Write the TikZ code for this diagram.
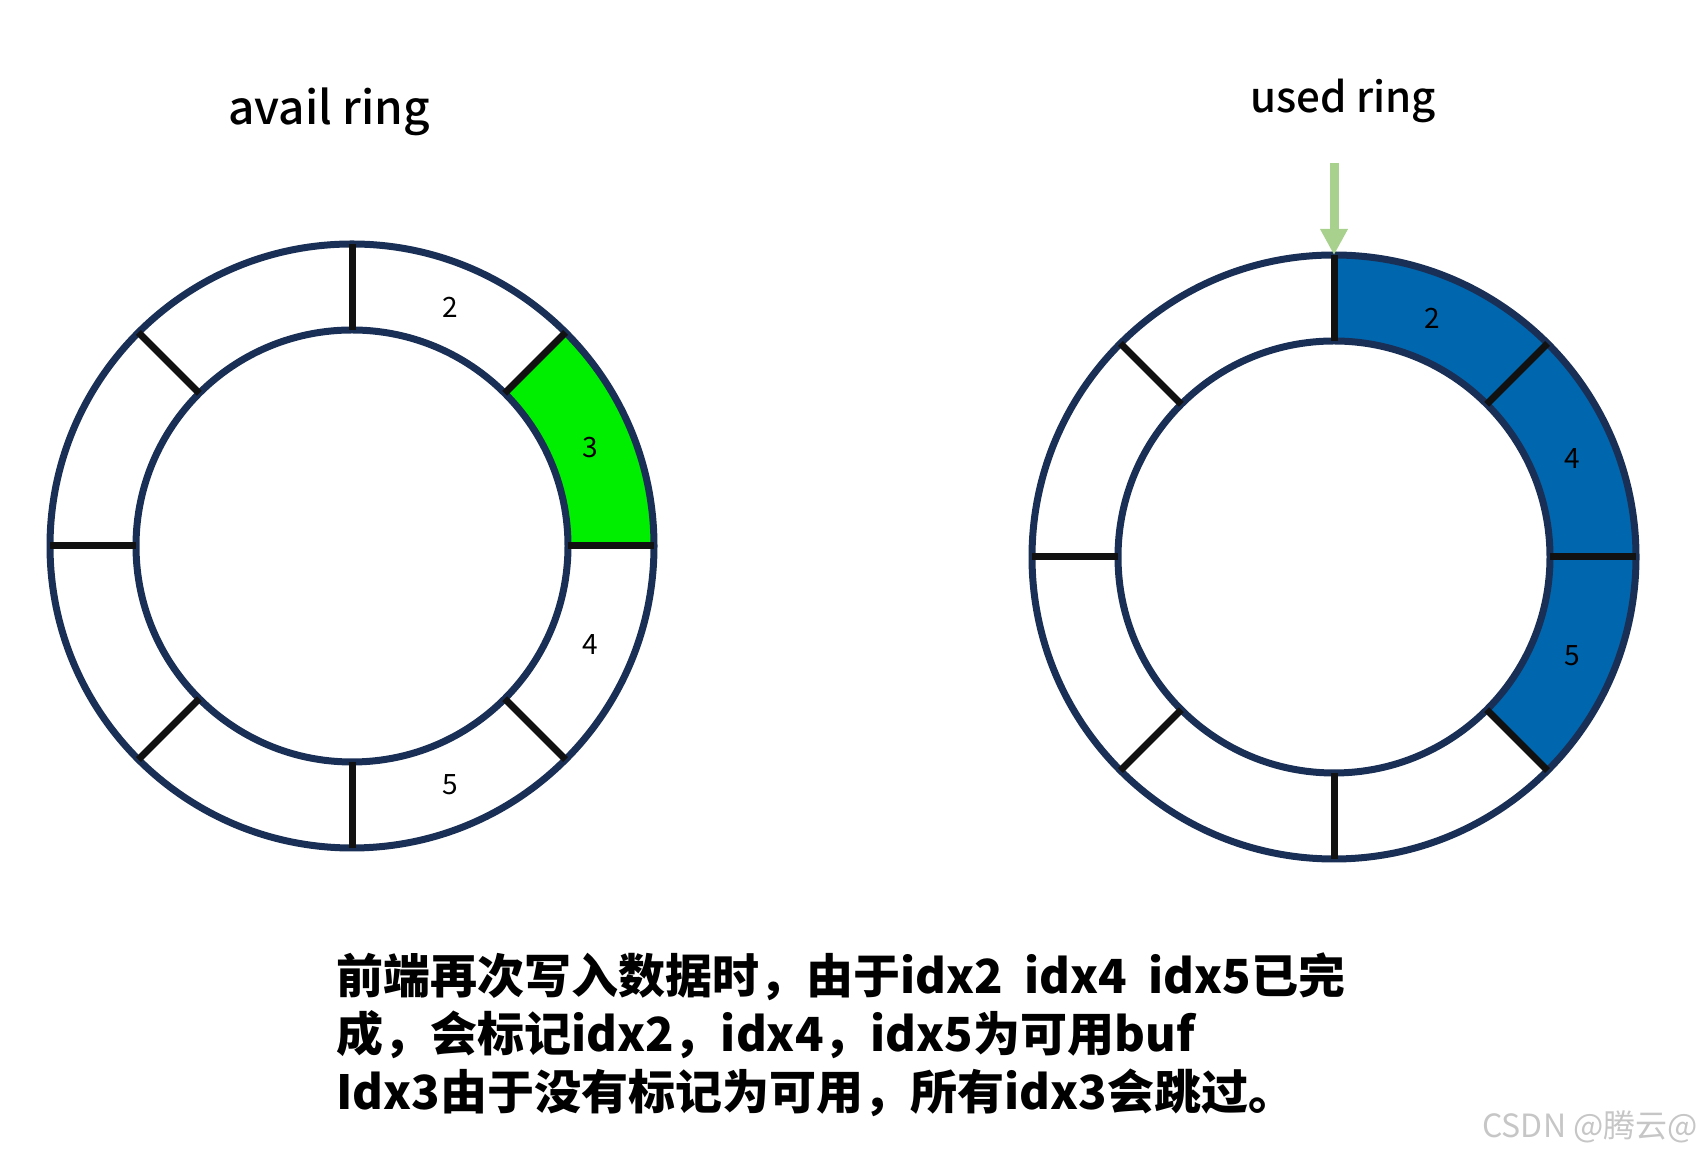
\documentclass[tikz,border=0pt]{standalone}
\usepackage{fontspec}
\usepackage{xcolor}
\usepackage{tikz}
\usetikzlibrary{arrows.meta,positioning,calc}
\newfontfamily\cjk{Noto Sans CJK SC}
\newfontfamily\cjktitle{Noto Sans CJK SC Medium}

\definecolor{ringnavy}{RGB}{26,47,86}
\definecolor{spokeblack}{RGB}{17,17,17}
\definecolor{availgreen}{RGB}{0,238,0}
\definecolor{usedblue}{RGB}{0,102,173}
\definecolor{arrowgreen}{RGB}{169,209,142}

\begin{document}
\begin{tikzpicture}[x=1pt, y=1pt,
    ringline/.style={draw=ringnavy, line width=7pt},
    spoke/.style={draw=spokeblack, line width=7pt},
    slotnum/.style={font=\cjk\fontsize{28}{28}\selectfont, inner sep=0pt},
    ringtitle/.style={font=\cjktitle\fontsize{46}{46}\selectfont, anchor=base, inner sep=0pt},
    noteline/.style={font=\cjk\bfseries\fontsize{47}{58}\selectfont, anchor=base west, inner sep=0pt}]

    \useasboundingbox (0,0) rectangle (1700,1156);

    \coordinate (lc) at (352,610);
    \coordinate (uc) at (1334,599);

    % titles
    \node[ringtitle] (availtitle) at (329,1031) {avail ring};
    \node[ringtitle, font=\cjktitle\fontsize{42}{42}\selectfont] (usedtitle) at (1343,1043) {used ring};

    % filled slots
    \fill[availgreen] ($(lc)+(0:302)$) arc[start angle=0, end angle=45, radius=302]
        -- ($(lc)+(45:216)$) arc[start angle=45, end angle=0, radius=216] -- cycle;
    \fill[usedblue] ($(uc)+(-45:302)$) arc[start angle=-45, end angle=90, radius=302]
        -- ($(uc)+(90:216)$) arc[start angle=90, end angle=-45, radius=216] -- cycle;

    % rings
    \draw[ringline] (lc) circle[radius=302];
    \draw[ringline] (lc) circle[radius=216];
    \draw[ringline] (uc) circle[radius=302];
    \draw[ringline] (uc) circle[radius=216];

    \foreach \a in {0,45,...,315} {
        \draw[spoke] ($(lc)+(\a:216)$) -- ($(lc)+(\a:302)$);
        \draw[spoke] ($(uc)+(\a:216)$) -- ($(uc)+(\a:302)$);
    }

    % slot numbers
    \node[slotnum] (a2) at ($(lc)+(67.5:258)$) {2};
    \node[slotnum] (a3) at ($(lc)+(22.5:258)$) {3};
    \node[slotnum] (a4) at ($(lc)+(-22.5:258)$) {4};
    \node[slotnum] (a5) at ($(lc)+(-67.5:258)$) {5};
    \node[slotnum] (u2) at ($(uc)+(67.5:258)$) {2};
    \node[slotnum] (u4) at ($(uc)+(22.5:258)$) {4};
    \node[slotnum] (u5) at ($(uc)+(-22.5:258)$) {5};

    % used pointer
    \coordinate (utop) at ($(uc)+(90:302)$);
    \coordinate (uptr) at (1334,993);
    \draw[draw=arrowgreen, line width=9pt, -{Triangle[width=26pt, length=26pt]}] (uptr) -- (utop);

    % note
    \node[noteline] (note1) at (336,162) {前端再次写入数据时，由于idx2\ \ idx4\ \ idx5已完};
    \node[noteline] (note2) at (336,104) {成，会标记idx2，idx4，idx5为可用buf};
    \node[noteline] (note3) at (336,46) {Idx3由于没有标记为可用，所有idx3会跳过。};

    \node[font=\cjk\fontsize{32}{32}\selectfont, text=gray!45, anchor=base east, inner sep=0pt] (mark) at (1698,18) {CSDN @腾云@};

\end{tikzpicture}
\end{document}
